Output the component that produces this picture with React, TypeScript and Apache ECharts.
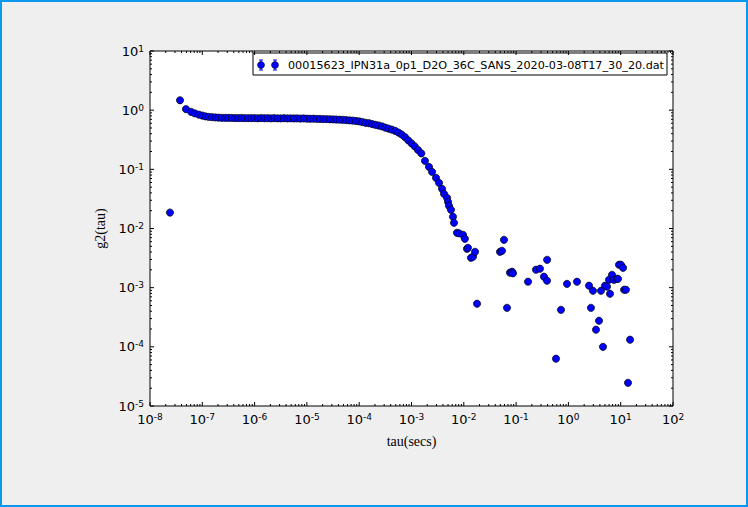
import React, { useEffect, useRef } from "react";
import * as echarts from "echarts";

// ---- data ----
const tau: number[] = [
  2.41e-8, 3.75e-8, 4.87e-8, 6.1e-8, 7.2e-8, 8.6e-8,
  1.0e-7, 1.15e-7, 1.33e-7, 1.54e-7, 1.78e-7, 2.05e-7, 2.37e-7, 2.74e-7, 3.16e-7, 3.65e-7, 4.22e-7, 4.87e-7, 5.62e-7, 6.49e-7, 7.5e-7, 8.66e-7,
  1.0e-6, 1.15e-6, 1.33e-6, 1.54e-6, 1.78e-6, 2.05e-6, 2.37e-6, 2.74e-6, 3.16e-6, 3.65e-6, 4.22e-6, 4.87e-6, 5.62e-6, 6.49e-6, 7.5e-6, 8.66e-6,
  1.0e-5, 1.15e-5, 1.33e-5, 1.54e-5, 1.78e-5, 2.05e-5, 2.37e-5, 2.74e-5, 3.16e-5, 3.65e-5, 4.22e-5, 4.87e-5, 5.62e-5, 6.49e-5, 7.5e-5, 8.66e-5,
  1.0e-4, 1.15e-4, 1.33e-4, 1.54e-4, 1.78e-4, 2.05e-4, 2.37e-4, 2.74e-4, 3.16e-4, 3.65e-4, 4.22e-4, 4.87e-4, 5.62e-4, 6.49e-4, 7.5e-4, 8.66e-4,
  1.0e-3, 1.15e-3, 1.33e-3, 1.54e-3,
  1.81e-3, 2.16e-3, 2.47e-3, 2.94e-3, 3.36e-3, 3.83e-3, 4.18e-3, 4.78e-3, 4.99e-3, 5.21e-3, 5.69e-3, 6.21e-3, 6.5e-3, 7.41e-3, 8.09e-3, 9.66e-3,
  1.05e-2, 1.15e-2, 1.2e-2, 1.37e-2, 1.5e-2, 1.64e-2, 1.79e-2,
  4.92e-2, 5.37e-2, 5.87e-2, 6.7e-2, 7.64e-2, 8.35e-2, 8.73e-2,
  0.169, 0.24, 0.286, 0.341, 0.39, 0.392, 0.579, 0.722, 0.94,
  1.46, 2.48, 2.7, 2.95, 3.37, 3.85, 4.2, 4.59, 5.01, 5.47, 5.97, 6.24, 6.82, 7.45, 8.49, 8.87, 9.27,
  10.1, 11.1, 11.6, 12.6, 13.8, 15.1,
];

const g2: number[] = [
  0.0186, 1.47, 1.04, 0.936, 0.883, 0.84,
  0.81, 0.786, 0.77, 0.762, 0.753, 0.747, 0.744, 0.742, 0.74, 0.738, 0.736, 0.735, 0.737, 0.733, 0.732, 0.734,
  0.733, 0.729, 0.734, 0.73, 0.731, 0.727, 0.732, 0.728, 0.726, 0.73, 0.725, 0.728, 0.724, 0.727, 0.722, 0.724,
  0.718, 0.716, 0.717, 0.712, 0.711, 0.707, 0.706, 0.701, 0.699, 0.694, 0.69, 0.686, 0.68, 0.673, 0.665, 0.656,
  0.647, 0.63, 0.612, 0.601, 0.582, 0.565, 0.55, 0.531, 0.506, 0.487, 0.469, 0.447, 0.419, 0.388, 0.35, 0.309,
  0.275, 0.245, 0.213, 0.186,
  0.139, 0.11, 0.0907, 0.0718, 0.0591, 0.0469, 0.0386, 0.033, 0.0282, 0.0242, 0.0207, 0.0158, 0.0125, 0.00846, 0.0083, 0.00783,
  0.0067, 0.00454, 0.00472, 0.0032, 0.00333, 0.00404, 5.35e-4,
  0.00404, 0.0042, 0.00644, 4.57e-4, 1.79e-3, 1.86e-3, 1.75e-3,
  1.26e-3, 2.01e-3, 2.09e-3, 1.53e-3, 1.31e-3, 2.96e-3, 6.3e-5, 4.23e-4, 1.16e-3,
  1.26e-3, 1.08e-3, 4.57e-4, 8.87e-4, 1.95e-4, 2.76e-4, 8.87e-4, 1.0e-4, 1.08e-3, 1.04e-3, 1.36e-3, 7.89e-4, 1.65e-3, 1.36e-3, 1.41e-3, 1.41e-3, 2.44e-3,
  2.44e-3, 2.17e-3, 9.22e-4, 9.22e-4, 2.47e-5, 1.32e-4,
];

const seriesName = "00015623_IPN31a_0p1_D2O_36C_SANS_2020-03-08T17_30_20.dat";
const xAxisTitle = "tau(secs)";
const yAxisTitle = "g2(tau)";
const xDecades: number[] = [-8, -7, -6, -5, -4, -3, -2, -1, 0, 1, 2];
const yDecades: number[] = [-5, -4, -3, -2, -1, 0, 1];

// tick marks (major at decades, minor at 2..9 x decade)
function buildTicks(decades: number[]): number[][] {
  const out: number[][] = [];
  decades.forEach((k, i) => {
    out.push([Math.pow(10, k), 4]);
    if (i < decades.length - 1) {
      for (let m = 2; m <= 9; m++) out.push([m * Math.pow(10, k), 2]);
    }
  });
  return out;
}

const supLabel = (v: number) => {
  const e = Math.round(Math.log10(v));
  return `{b|10}{s|${e}}`;
};

const labelRich = {
  b: { fontSize: 13, fontFamily: "DejaVu Sans", color: "#000", lineHeight: 14 },
  s: { fontSize: 9, fontFamily: "DejaVu Sans", color: "#000", lineHeight: 9, verticalAlign: "top" },
};

export default function App() {
  const ref = useRef<HTMLDivElement>(null);
  useEffect(() => {
    if (!ref.current) return;
    const chart = echarts.init(ref.current, null, { renderer: "svg" });
    const xt = buildTicks(xDecades).map((t) => [t[0], 1, t[1]]);
    const yt = buildTicks(yDecades).map((t) => [1, t[0], t[1]]);
    const tickLine = (x1: number, y1: number, x2: number, y2: number) => ({
      type: "line",
      shape: { x1, y1, x2, y2 },
      style: { stroke: "#000", lineWidth: 1 },
    });
    const option: any = {
      animation: false,
      backgroundColor: "#efefef",
      grid: {
        left: 150,
        top: 51,
        width: 523,
        height: 355,
        show: true,
        backgroundColor: "#ffffff",
        borderColor: "#000",
        borderWidth: 1,
      },
      xAxis: {
        type: "log",
        logBase: 10,
        min: 1e-8,
        max: 1e2,
        interval: 1,
        splitLine: { show: false },
        axisLine: { show: false },
        axisTick: { show: false },
        axisLabel: { formatter: supLabel, rich: labelRich, margin: 6, interval: 0, hideOverlap: false, showMinLabel: true, showMaxLabel: true },
        name: xAxisTitle,
        nameLocation: "middle",
        nameGap: 28,
        nameTextStyle: { fontFamily: "Liberation Serif", fontSize: 14, color: "#000" },
      },
      yAxis: {
        type: "log",
        logBase: 10,
        min: 1e-5,
        max: 1e1,
        interval: 1,
        splitLine: { show: false },
        axisLine: { show: false },
        axisTick: { show: false },
        axisLabel: { formatter: supLabel, rich: labelRich, margin: 6, interval: 0, showMinLabel: true, showMaxLabel: true },
        name: yAxisTitle,
        nameLocation: "middle",
        nameGap: 41,
        nameTextStyle: { fontFamily: "Liberation Serif", fontSize: 14, color: "#000" },
      },
      graphic: [
        {
          type: "group",
          z: 100,
          children: [
            { type: "rect", shape: { x: 253, y: 53, width: 414, height: 22 }, style: { fill: "#fff", stroke: "#000", lineWidth: 1 } },
            { type: "line", shape: { x1: 261, y1: 60, x2: 261, y2: 70 }, style: { stroke: "#0000ff", lineWidth: 1 } },
            { type: "line", shape: { x1: 259, y1: 60, x2: 263, y2: 60 }, style: { stroke: "#0000ff", lineWidth: 1 } },
            { type: "line", shape: { x1: 259, y1: 70, x2: 263, y2: 70 }, style: { stroke: "#0000ff", lineWidth: 1 } },
            { type: "circle", shape: { cx: 261, cy: 65, r: 3.5 }, style: { fill: "#0000ff", stroke: "#000", lineWidth: 0.6 } },
            { type: "line", shape: { x1: 275, y1: 60, x2: 275, y2: 70 }, style: { stroke: "#0000ff", lineWidth: 1 } },
            { type: "line", shape: { x1: 273, y1: 60, x2: 277, y2: 60 }, style: { stroke: "#0000ff", lineWidth: 1 } },
            { type: "line", shape: { x1: 273, y1: 70, x2: 277, y2: 70 }, style: { stroke: "#0000ff", lineWidth: 1 } },
            { type: "circle", shape: { cx: 275, cy: 65, r: 3.5 }, style: { fill: "#0000ff", stroke: "#000", lineWidth: 0.6 } },
            {
              type: "text",
              x: 288,
              y: 65,
              style: { text: seriesName, fontSize: 11.2, fontFamily: "DejaVu Sans", fill: "#000", verticalAlign: "middle", align: "left" },
            },
          ],
        },
        {
          type: "rect",
          z: 101,
          shape: { x: 1, y: 1, width: 746, height: 505 },
          style: { fill: "none", stroke: "#0a98ee", lineWidth: 2 },
        },
      ],
      series: [
        {
          type: "scatter",
          name: seriesName,
          data: tau.map((t, i) => [t, g2[i]]),
          symbol: "circle",
          symbolSize: 7.2,
          itemStyle: { color: "#0000ff", borderColor: "#000", borderWidth: 0.7, opacity: 1 },
          z: 2,
        },
        {
          type: "custom",
          silent: true,
          clip: false,
          z: 5,
          data: xt,
          renderItem: (params: any, api: any) => {
            const cs = params.coordSys;
            const px = api.coord([api.value(0), 1])[0];
            const L = api.value(2);
            const b = cs.y + cs.height;
            return {
              type: "group",
              children: [tickLine(px, b, px, b - L), tickLine(px, cs.y, px, cs.y + L)],
            };
          },
        },
        {
          type: "custom",
          silent: true,
          clip: false,
          z: 5,
          data: yt,
          renderItem: (params: any, api: any) => {
            const cs = params.coordSys;
            const py = api.coord([1, api.value(1)])[1];
            const L = api.value(2);
            const r = cs.x + cs.width;
            return {
              type: "group",
              children: [tickLine(cs.x, py, cs.x + L, py), tickLine(r, py, r - L, py)],
            };
          },
        },
      ],
    };
    chart.setOption(option);
    return () => chart.dispose();
  }, []);
  return <div ref={ref} style={{ position: "fixed", left: 0, top: 0, width: 748, height: 507 }} />;
}
